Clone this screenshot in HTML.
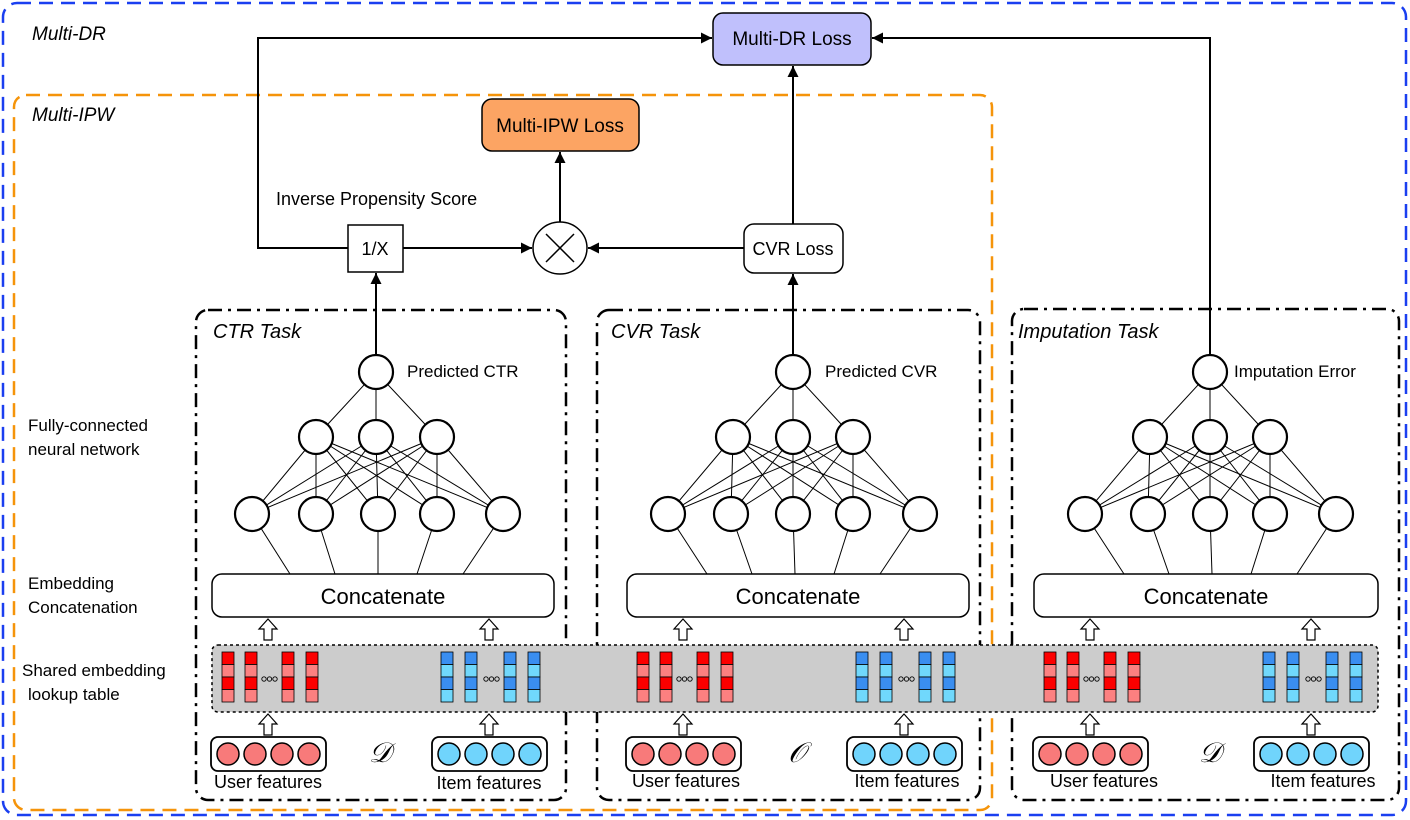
<!DOCTYPE html>
<html><head><meta charset="utf-8"><style>
html,body{margin:0;padding:0;background:#fff;}
svg{display:block;}
text{font-family:"Liberation Sans",sans-serif;fill:#000;}
</style></head><body>
<svg id="s" width="1410" height="820" viewBox="0 0 1410 820" xmlns="http://www.w3.org/2000/svg">
<defs>
<marker id="ar" viewBox="0 0 10 10" refX="10" refY="5" markerWidth="11" markerHeight="11" orient="auto-start-reverse" markerUnits="userSpaceOnUse"><path d="M0,0 L10,5 L0,10 z" fill="#000"/></marker>
</defs>
<rect x="3" y="3" width="1403" height="812" rx="14" fill="none" stroke="#1a3ff0" stroke-width="2.5" stroke-dasharray="14,8"/>
<rect x="14" y="95" width="978" height="715" rx="12" fill="none" stroke="#f5940a" stroke-width="2.5" stroke-dasharray="14,8"/>
<text x="32" y="40" font-size="19" font-style="italic">Multi-DR</text>
<text x="32" y="121" font-size="19" font-style="italic">Multi-IPW</text>

<rect x="196" y="310" width="370" height="490" rx="12" fill="none" stroke="#000" stroke-width="2.5" stroke-dasharray="14,6,3,6"/>
<rect x="597" y="310" width="383" height="490" rx="12" fill="none" stroke="#000" stroke-width="2.5" stroke-dasharray="14,6,3,6"/>
<rect x="1012" y="309" width="387" height="491" rx="12" fill="none" stroke="#000" stroke-width="2.5" stroke-dasharray="14,6,3,6"/>
<text x="213" y="338" font-size="20" font-style="italic">CTR Task</text>
<text x="611" y="338" font-size="20" font-style="italic">CVR Task</text>
<text x="1018" y="338" font-size="20" font-style="italic">Imputation Task</text>

<rect x="212" y="645" width="1166" height="67" rx="6" fill="#cccccc" stroke="#000" stroke-width="1.5" stroke-dasharray="3,3"/>

<rect x="713" y="13" width="158" height="52" rx="10" fill="#c0c0fc" stroke="#000" stroke-width="1.5"/>
<text x="792" y="45" font-size="19" text-anchor="middle">Multi-DR Loss</text>
<rect x="482" y="99" width="157" height="52" rx="10" fill="#fca463" stroke="#000" stroke-width="1.5"/>
<text x="560" y="132" font-size="19" text-anchor="middle">Multi-IPW Loss</text>
<text x="276" y="205" font-size="18">Inverse Propensity Score</text>
<rect x="348" y="225" width="55" height="47" fill="#fff" stroke="#000" stroke-width="1.5"/>
<text x="375" y="255" font-size="18" text-anchor="middle">1/X</text>
<ellipse cx="560" cy="248" rx="27" ry="26" fill="#fff" stroke="#000" stroke-width="1.5"/>
<line x1="546" y1="234" x2="574" y2="262" stroke="#000" stroke-width="1.5"/>
<line x1="574" y1="234" x2="546" y2="262" stroke="#000" stroke-width="1.5"/>
<rect x="744" y="224" width="99" height="49" rx="10" fill="#fff" stroke="#000" stroke-width="1.5"/>
<text x="793" y="255" font-size="18" text-anchor="middle">CVR Loss</text>

<g stroke="#000" stroke-width="2" fill="none">
<polyline points="348,248 258,248 258,38 712,38" marker-end="url(#ar)"/>
<polyline points="1210,355 1210,38 872,38" marker-end="url(#ar)"/>
<line x1="403" y1="248" x2="532" y2="248" marker-end="url(#ar)"/>
<line x1="744" y1="248" x2="588" y2="248" marker-end="url(#ar)"/>
<line x1="793" y1="224" x2="793" y2="66" marker-end="url(#ar)"/>
<line x1="560" y1="222" x2="560" y2="152" marker-end="url(#ar)"/>
<line x1="376" y1="355" x2="376" y2="273" marker-end="url(#ar)"/>
<line x1="793" y1="355" x2="793" y2="274" marker-end="url(#ar)"/>
</g>

<text x="28" y="431" font-size="17">Fully-connected</text>
<text x="28" y="455" font-size="17">neural network</text>
<text x="28" y="589" font-size="17">Embedding</text>
<text x="28" y="613" font-size="17">Concatenation</text>
<text x="22" y="676" font-size="17">Shared embedding</text>
<text x="28" y="700" font-size="17">lookup table</text>

<text x="407" y="377" font-size="17">Predicted CTR</text>
<text x="825" y="377" font-size="17">Predicted CVR</text>
<text x="1234" y="377" font-size="17">Imputation Error</text>

<rect x="212" y="574" width="342" height="43" rx="10" fill="#fff" stroke="#000" stroke-width="1.5"/>
<text x="383" y="604" font-size="22" text-anchor="middle">Concatenate</text>
<rect x="627" y="574" width="342" height="43" rx="10" fill="#fff" stroke="#000" stroke-width="1.5"/>
<text x="798" y="604" font-size="22" text-anchor="middle">Concatenate</text>
<rect x="1034" y="574" width="344" height="43" rx="10" fill="#fff" stroke="#000" stroke-width="1.5"/>
<text x="1206" y="604" font-size="22" text-anchor="middle">Concatenate</text>

<text x="268" y="788" font-size="18" text-anchor="middle">User features</text>
<text x="489" y="789" font-size="18" text-anchor="middle">Item features</text>
<text x="686" y="787" font-size="18" text-anchor="middle">User features</text>
<text x="907" y="787" font-size="18" text-anchor="middle">Item features</text>
<text x="1104" y="787" font-size="18" text-anchor="middle">User features</text>
<text x="1323" y="787" font-size="18" text-anchor="middle">Item features</text>
<text x="380" y="762" font-size="28" font-style="italic" font-family="Liberation Serif,serif" text-anchor="middle">𝒟</text>
<text x="797" y="762" font-size="28" font-style="italic" font-family="Liberation Serif,serif" text-anchor="middle">𝒪</text>
<text x="1210" y="762" font-size="28" font-style="italic" font-family="Liberation Serif,serif" text-anchor="middle">𝒟</text>
<g id="dyn"></g>
</svg>
<script>
var g=document.getElementById('dyn'),NS='http://www.w3.org/2000/svg';
function el(t,a){var e=document.createElementNS(NS,t);for(var k in a)e.setAttribute(k,a[k]);g.appendChild(e);return e;}
var nets=[{c:376,mid:[316,376,437],bot:[252,316,378,437,503],cl:212},
{c:793,mid:[733,793,853],bot:[668,731,793,853,920],cl:627},
{c:1210,mid:[1150,1210,1270],bot:[1085,1148,1210,1270,1336],cl:1034}];
nets.forEach(function(n){
 var tgt=[n.c-86,n.c-41,n.c+2,n.c+41,n.c+87];
 n.bot.forEach(function(b,i){el('line',{x1:b,y1:514,x2:tgt[i],y2:574,stroke:'#000','stroke-width':1});});
 n.mid.forEach(function(m){el('line',{x1:n.c,y1:372,x2:m,y2:437,stroke:'#000','stroke-width':1});
  n.bot.forEach(function(b){el('line',{x1:m,y1:437,x2:b,y2:514,stroke:'#000','stroke-width':1});});});
 el('circle',{cx:n.c,cy:372,r:17,fill:'#fff',stroke:'#000','stroke-width':2.2});
 n.mid.forEach(function(m){el('circle',{cx:m,cy:437,r:17,fill:'#fff',stroke:'#000','stroke-width':2.2});});
 n.bot.forEach(function(b){el('circle',{cx:b,cy:514,r:17,fill:'#fff',stroke:'#000','stroke-width':2.2});});
 var L=n.cl;
 [[10,'r'],[33,'r'],[70,'r'],[94,'r'],[229,'b'],[253,'b'],[292,'b'],[316,'b']].forEach(function(c){
  for(var k=0;k<4;k++){var f=c[1]=='r'?(k%2?'#fc8080':'#fc0000'):(k%2?'#70d8fc':'#3a8ef0');
   el('rect',{x:L+c[0],y:652+k*12.5,width:12,height:12.5,fill:f,stroke:'#000','stroke-width':0.8});}
 });
 [52,274].forEach(function(o){for(var k=0;k<3;k++)el('circle',{cx:L+o+k*5.5,cy:679,r:2.2,fill:'none',stroke:'#000','stroke-width':0.9});});
 var ux=L+56,ix=L+277;
 [[ux,640],[ix,640],[ux,735],[ix,735]].forEach(function(a){var x=a[0],y=a[1];
  el('path',{d:'M'+(x-4)+','+y+' L'+(x-4)+','+(y-11)+' L'+(x-9)+','+(y-11)+' L'+x+','+(y-21)+' L'+(x+9)+','+(y-11)+' L'+(x+4)+','+(y-11)+' L'+(x+4)+','+y+' Z',fill:'#fff',stroke:'#000','stroke-width':1.2});});
 el('rect',{x:ux-57,y:737,width:115,height:34,rx:7,fill:'#fff',stroke:'#000','stroke-width':1.8});
 el('rect',{x:ix-57,y:737,width:115,height:34,rx:7,fill:'#fff',stroke:'#000','stroke-width':1.8});
 for(var k=0;k<4;k++){
  el('circle',{cx:ux-40+k*27,cy:754,r:11,fill:'#f87a7a',stroke:'#000','stroke-width':1.5});
  el('circle',{cx:ix-40+k*27,cy:754,r:11,fill:'#70d4fc',stroke:'#000','stroke-width':1.5});
 }
});
</script>
</body></html>
